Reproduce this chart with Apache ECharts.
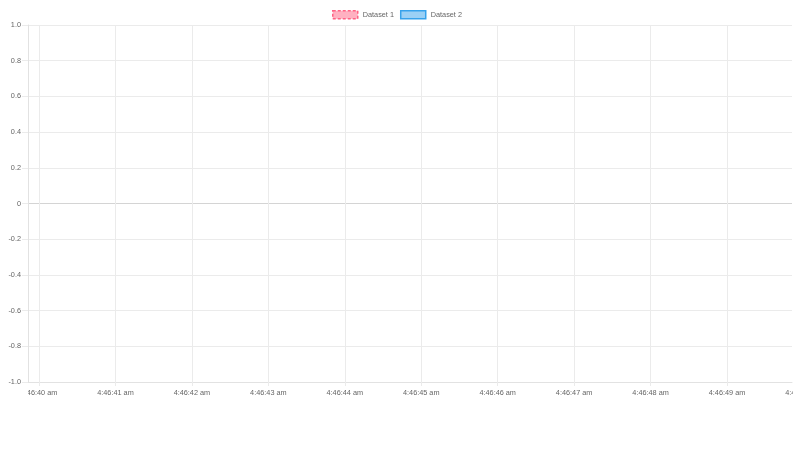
<!DOCTYPE html>
<html><head><meta charset="utf-8">
<script src="https://cdn.jsdelivr.net/npm/echarts@6/dist/echarts.min.js"></script>
<style>html,body{margin:0;padding:0;background:#fff}#c{width:800px;height:450px}</style>
</head><body><div id="c"></div>
<script>
// ---- data ----
const seriesNames = ['Dataset 1', 'Dataset 2'];
const dataset1 = [];
const dataset2 = [];
const xTickSeconds = [40, 41, 42, 43, 44, 45, 46, 47, 48, 49, 50];
const xTickLabels = ['4:46:40 am', '4:46:41 am', '4:46:42 am', '4:46:43 am', '4:46:44 am', '4:46:45 am', '4:46:46 am', '4:46:47 am', '4:46:48 am', '4:46:49 am', '4:46:50 am'];
const xRange = [39.856, 49.85];
const yRange = [-1, 1];
const yStep = 0.2;

// ---- styles ----
const FONT = "'Liberation Sans', Arial, Helvetica, sans-serif";
const FS = 7.3;
const TXT = '#666';
const GRID = '#ebebeb';
const ZERO = '#d4d4d4';

const yLineColors = [];
for (let i = 0; i <= Math.round((yRange[1] - yRange[0]) / yStep); i++) {
  const v = yRange[0] + i * yStep;
  yLineColors.push(Math.abs(v) < 1e-9 ? ZERO : GRID);
}
const inRangeTicks = xTickSeconds.filter(s => s >= xRange[0] && s <= xRange[1]);

const chart = echarts.init(document.getElementById('c'), null, {renderer: 'canvas'});
const option = {
  animation: false,
  backgroundColor: '#fff',
  textStyle: {fontFamily: FONT},
  legend: {
    top: 5, left: 327, itemWidth: 25, itemHeight: 8, itemGap: 6,
    textStyle: {color: TXT, fontSize: FS, fontFamily: FONT},
    data: [
      {name: seriesNames[0], icon: 'rect', itemStyle: {color: 'rgba(255,99,132,0.5)', borderColor: 'rgb(255,99,132)', borderWidth: 1.5, borderType: [3, 2]}},
      {name: seriesNames[1], icon: 'rect', itemStyle: {color: 'rgba(54,162,235,0.5)', borderColor: 'rgb(54,162,235)', borderWidth: 1.5}}
    ]
  },
  grid: {left: 28, right: 8, top: 25, bottom: 68, containLabel: false, outerBoundsMode: 'none'},
  xAxis: {
    type: 'value', min: xRange[0], max: xRange[1],
    axisLine: {show: true, onZero: false, lineStyle: {color: '#e2e2e2', width: 1}},
    axisTick: {show: true, length: 4, lineStyle: {color: GRID}, customValues: inRangeTicks},
    splitLine: {show: true, lineStyle: {color: GRID, width: 1}},
    axisLabel: {
      color: TXT, fontSize: FS, fontFamily: FONT, margin: 7, customValues: inRangeTicks,
      formatter: function (v) {
        const i = xTickSeconds.findIndex(s => Math.abs(s - v) < 1e-6);
        return i >= 0 ? xTickLabels[i] : '';
      }
    }
  },
  yAxis: {
    type: 'value', min: yRange[0], max: yRange[1], interval: yStep,
    axisLine: {show: true, lineStyle: {color: '#e2e2e2', width: 1}},
    axisTick: {show: true, length: 6, lineStyle: {color: GRID}},
    splitLine: {show: true, lineStyle: {color: yLineColors, width: 1}},
    axisLabel: {
      color: TXT, fontSize: FS, fontFamily: FONT, margin: 7,
      formatter: function (v) { return Math.abs(v) < 1e-9 ? '0' : v.toFixed(1); }
    }
  },
  series: [
    {name: seriesNames[0], type: 'line', data: dataset1, showSymbol: false,
     itemStyle: {color: 'rgba(255,99,132,0.5)', borderColor: 'rgb(255,99,132)'},
     lineStyle: {color: 'rgb(255,99,132)', type: 'dashed'}},
    {name: seriesNames[1], type: 'line', data: dataset2, showSymbol: false,
     itemStyle: {color: 'rgba(54,162,235,0.5)', borderColor: 'rgb(54,162,235)'},
     lineStyle: {color: 'rgb(54,162,235)'}}
  ]
};
chart.setOption(option);

// labels for ticks that fall just outside the plot (clipped at the plot edges, as in the reference)
const yBottom = chart.convertToPixel({yAxisIndex: 0}, yRange[0]);
const xLeft = chart.convertToPixel({xAxisIndex: 0}, xRange[0]);
const xRight = chart.convertToPixel({xAxisIndex: 0}, xRange[1]);
const graphics = [];
xTickSeconds.forEach((s, i) => {
  if (s > xRange[1] || s < xRange[0]) {
    graphics.push({
      type: 'text', z: 50,
      x: chart.convertToPixel({xAxisIndex: 0}, s), y: yBottom + 7,
      style: {text: xTickLabels[i], fill: TXT, fontSize: FS, fontFamily: FONT, align: 'center', verticalAlign: 'top'}
    });
  }
});
graphics.push({type: 'rect', z: 100, shape: {x: 0, y: yBottom + 4, width: xLeft, height: 30}, style: {fill: '#fff'}});
graphics.push({type: 'rect', z: 100, shape: {x: xRight + 1, y: yBottom + 4, width: 800 - xRight, height: 30}, style: {fill: '#fff'}});
chart.setOption({graphic: graphics});
</script>
</body></html>
